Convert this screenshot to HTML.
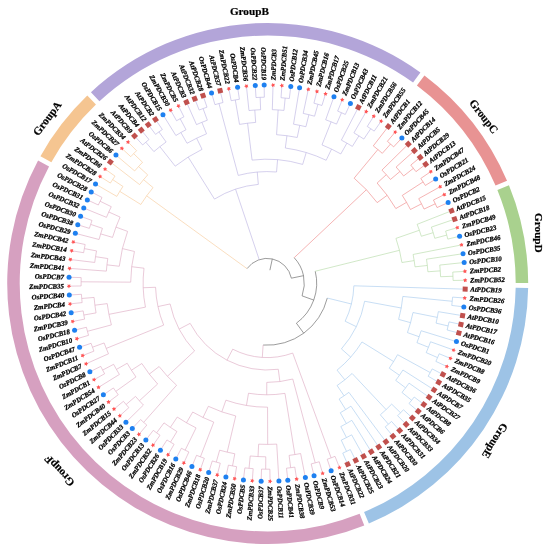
<!DOCTYPE html>
<html><head><meta charset="utf-8"><title>PDCB phylogenetic tree</title>
<style>
html,body{margin:0;padding:0;background:#fff;}
svg{display:block;}
.gl{font-family:"Liberation Serif",serif;font-weight:bold;font-size:11.2px;fill:#000;stroke:#000;stroke-width:0.2px;}
.lf{font-family:"Liberation Serif",serif;font-weight:bold;font-style:italic;font-size:68.5px;fill:#000;stroke:#000;stroke-width:2.6px;text-rendering:geometricPrecision;}
</style></head><body>
<svg width="550" height="551" viewBox="0 0 550 551">
<rect width="550" height="551" fill="#fff"/>
<path d="M269.90 270.20L272.31 258.95" stroke="#595959" stroke-width="0.6" fill="none"/>
<path d="M247.02 268.64A24.80 24.80 0 0 1 291.39 278.18" stroke="#595959" stroke-width="0.6" fill="none"/>
<path d="M247.02 268.64L146.65 195.84" stroke="#f6c796" stroke-width="0.6" fill="none"/>
<path d="M140.82 204.49A148.80 148.80 0 0 1 153.06 187.61" stroke="#f6c796" stroke-width="0.6" fill="none"/>
<path d="M140.82 204.49L119.77 191.37" stroke="#f6c796" stroke-width="0.6" fill="none"/>
<path d="M116.77 196.39A173.60 173.60 0 0 1 122.95 186.47" stroke="#f6c796" stroke-width="0.6" fill="none"/>
<path d="M116.77 196.39L95.29 183.98" stroke="#f6c796" stroke-width="0.6" fill="none"/>
<path d="M122.95 186.47L112.65 179.56" stroke="#f6c796" stroke-width="0.6" fill="none"/>
<path d="M110.36 183.05A186.00 186.00 0 0 1 115.01 176.12" stroke="#f6c796" stroke-width="0.6" fill="none"/>
<path d="M110.36 183.05L99.91 176.37" stroke="#f6c796" stroke-width="0.6" fill="none"/>
<path d="M115.01 176.12L104.88 168.98" stroke="#f6c796" stroke-width="0.6" fill="none"/>
<path d="M153.06 187.61L143.56 179.65" stroke="#f6c796" stroke-width="0.6" fill="none"/>
<path d="M139.59 184.58A161.20 161.20 0 0 1 147.72 174.88" stroke="#f6c796" stroke-width="0.6" fill="none"/>
<path d="M139.59 184.58L110.16 161.82" stroke="#f6c796" stroke-width="0.6" fill="none"/>
<path d="M147.72 174.88L138.54 166.54" stroke="#f6c796" stroke-width="0.6" fill="none"/>
<path d="M134.68 170.94A173.60 173.60 0 0 1 142.54 162.28" stroke="#f6c796" stroke-width="0.6" fill="none"/>
<path d="M134.68 170.94L115.77 154.90" stroke="#f6c796" stroke-width="0.6" fill="none"/>
<path d="M142.54 162.28L133.64 153.65" stroke="#f6c796" stroke-width="0.6" fill="none"/>
<path d="M130.76 156.67A186.00 186.00 0 0 1 136.58 150.69" stroke="#f6c796" stroke-width="0.6" fill="none"/>
<path d="M130.76 156.67L121.68 148.24" stroke="#f6c796" stroke-width="0.6" fill="none"/>
<path d="M136.58 150.69L127.88 141.85" stroke="#f6c796" stroke-width="0.6" fill="none"/>
<path d="M259.21 259.69L235.54 189.15" stroke="#b9b0e0" stroke-width="0.6" fill="none"/>
<path d="M214.49 199.10A99.20 99.20 0 0 1 258.33 184.39" stroke="#b9b0e0" stroke-width="0.6" fill="none"/>
<path d="M214.49 199.10L188.18 157.05" stroke="#b9b0e0" stroke-width="0.6" fill="none"/>
<path d="M175.21 166.16A148.80 148.80 0 0 1 202.05 149.37" stroke="#b9b0e0" stroke-width="0.6" fill="none"/>
<path d="M175.21 166.16L159.89 146.66" stroke="#b9b0e0" stroke-width="0.6" fill="none"/>
<path d="M153.88 151.60A173.60 173.60 0 0 1 166.13 141.99" stroke="#b9b0e0" stroke-width="0.6" fill="none"/>
<path d="M153.88 151.60L145.79 142.21" stroke="#b9b0e0" stroke-width="0.6" fill="none"/>
<path d="M142.66 144.96A186.00 186.00 0 0 1 148.98 139.52" stroke="#b9b0e0" stroke-width="0.6" fill="none"/>
<path d="M142.66 144.96L134.36 135.75" stroke="#b9b0e0" stroke-width="0.6" fill="none"/>
<path d="M148.98 139.52L141.11 129.94" stroke="#b9b0e0" stroke-width="0.6" fill="none"/>
<path d="M166.13 141.99L158.92 131.90" stroke="#b9b0e0" stroke-width="0.6" fill="none"/>
<path d="M155.55 134.36A186.00 186.00 0 0 1 162.34 129.51" stroke="#b9b0e0" stroke-width="0.6" fill="none"/>
<path d="M155.55 134.36L148.11 124.44" stroke="#b9b0e0" stroke-width="0.6" fill="none"/>
<path d="M162.34 129.51L155.35 119.26" stroke="#b9b0e0" stroke-width="0.6" fill="none"/>
<path d="M202.05 149.37L196.63 138.22" stroke="#b9b0e0" stroke-width="0.6" fill="none"/>
<path d="M187.04 143.29A161.20 161.20 0 0 1 206.54 133.81" stroke="#b9b0e0" stroke-width="0.6" fill="none"/>
<path d="M187.04 143.29L180.88 132.53" stroke="#b9b0e0" stroke-width="0.6" fill="none"/>
<path d="M175.86 135.51A173.60 173.60 0 0 1 186.00 129.71" stroke="#b9b0e0" stroke-width="0.6" fill="none"/>
<path d="M175.86 135.51L162.82 114.41" stroke="#b9b0e0" stroke-width="0.6" fill="none"/>
<path d="M186.00 129.71L180.20 118.75" stroke="#b9b0e0" stroke-width="0.6" fill="none"/>
<path d="M176.54 120.74A186.00 186.00 0 0 1 183.92 116.84" stroke="#b9b0e0" stroke-width="0.6" fill="none"/>
<path d="M176.54 120.74L170.50 109.91" stroke="#b9b0e0" stroke-width="0.6" fill="none"/>
<path d="M183.92 116.84L178.37 105.75" stroke="#b9b0e0" stroke-width="0.6" fill="none"/>
<path d="M206.54 133.81L201.88 122.32" stroke="#b9b0e0" stroke-width="0.6" fill="none"/>
<path d="M196.51 124.60A173.60 173.60 0 0 1 207.34 120.21" stroke="#b9b0e0" stroke-width="0.6" fill="none"/>
<path d="M196.51 124.60L186.42 101.94" stroke="#b9b0e0" stroke-width="0.6" fill="none"/>
<path d="M207.34 120.21L203.07 108.57" stroke="#b9b0e0" stroke-width="0.6" fill="none"/>
<path d="M199.16 110.05A186.00 186.00 0 0 1 207.00 107.18" stroke="#b9b0e0" stroke-width="0.6" fill="none"/>
<path d="M199.16 110.05L194.63 98.51" stroke="#b9b0e0" stroke-width="0.6" fill="none"/>
<path d="M207.00 107.18L202.99 95.44" stroke="#b9b0e0" stroke-width="0.6" fill="none"/>
<path d="M258.33 184.39L257.24 172.04" stroke="#b9b0e0" stroke-width="0.6" fill="none"/>
<path d="M238.23 175.40A111.60 111.60 0 0 1 276.54 172.00" stroke="#b9b0e0" stroke-width="0.6" fill="none"/>
<path d="M238.23 175.40L218.98 103.53" stroke="#b9b0e0" stroke-width="0.6" fill="none"/>
<path d="M214.96 104.66A186.00 186.00 0 0 1 223.02 102.50" stroke="#b9b0e0" stroke-width="0.6" fill="none"/>
<path d="M214.96 104.66L211.48 92.76" stroke="#b9b0e0" stroke-width="0.6" fill="none"/>
<path d="M223.02 102.50L220.08 90.45" stroke="#b9b0e0" stroke-width="0.6" fill="none"/>
<path d="M276.54 172.00L277.59 159.64" stroke="#b9b0e0" stroke-width="0.6" fill="none"/>
<path d="M252.08 160.11A124.00 124.00 0 0 1 302.66 164.41" stroke="#b9b0e0" stroke-width="0.6" fill="none"/>
<path d="M252.08 160.11L247.57 123.19" stroke="#b9b0e0" stroke-width="0.6" fill="none"/>
<path d="M239.52 124.38A161.20 161.20 0 0 1 255.67 122.41" stroke="#b9b0e0" stroke-width="0.6" fill="none"/>
<path d="M239.52 124.38L235.28 99.94" stroke="#b9b0e0" stroke-width="0.6" fill="none"/>
<path d="M231.17 100.70A186.00 186.00 0 0 1 239.40 99.27" stroke="#b9b0e0" stroke-width="0.6" fill="none"/>
<path d="M231.17 100.70L228.78 88.54" stroke="#b9b0e0" stroke-width="0.6" fill="none"/>
<path d="M239.40 99.27L237.55 87.01" stroke="#b9b0e0" stroke-width="0.6" fill="none"/>
<path d="M255.67 122.41L254.79 110.04" stroke="#b9b0e0" stroke-width="0.6" fill="none"/>
<path d="M248.97 110.55A173.60 173.60 0 0 1 260.63 109.72" stroke="#b9b0e0" stroke-width="0.6" fill="none"/>
<path d="M248.97 110.55L246.38 85.88" stroke="#b9b0e0" stroke-width="0.6" fill="none"/>
<path d="M260.63 109.72L260.16 97.33" stroke="#b9b0e0" stroke-width="0.6" fill="none"/>
<path d="M255.99 97.53A186.00 186.00 0 0 1 264.34 97.22" stroke="#b9b0e0" stroke-width="0.6" fill="none"/>
<path d="M255.99 97.53L255.25 85.15" stroke="#b9b0e0" stroke-width="0.6" fill="none"/>
<path d="M264.34 97.22L264.15 84.82" stroke="#b9b0e0" stroke-width="0.6" fill="none"/>
<path d="M302.66 164.41L306.22 152.53" stroke="#b9b0e0" stroke-width="0.6" fill="none"/>
<path d="M285.30 148.02A136.40 136.40 0 0 1 326.18 160.26" stroke="#b9b0e0" stroke-width="0.6" fill="none"/>
<path d="M285.30 148.02L286.95 135.73" stroke="#b9b0e0" stroke-width="0.6" fill="none"/>
<path d="M276.57 134.70A148.80 148.80 0 0 1 297.23 137.48" stroke="#b9b0e0" stroke-width="0.6" fill="none"/>
<path d="M276.57 134.70L278.15 109.95" stroke="#b9b0e0" stroke-width="0.6" fill="none"/>
<path d="M272.31 109.68A173.60 173.60 0 0 1 283.97 110.42" stroke="#b9b0e0" stroke-width="0.6" fill="none"/>
<path d="M272.31 109.68L273.06 84.89" stroke="#b9b0e0" stroke-width="0.6" fill="none"/>
<path d="M283.97 110.42L285.18 98.08" stroke="#b9b0e0" stroke-width="0.6" fill="none"/>
<path d="M281.02 97.72A186.00 186.00 0 0 1 289.33 98.53" stroke="#b9b0e0" stroke-width="0.6" fill="none"/>
<path d="M281.02 97.72L281.95 85.36" stroke="#b9b0e0" stroke-width="0.6" fill="none"/>
<path d="M289.33 98.53L290.81 86.22" stroke="#b9b0e0" stroke-width="0.6" fill="none"/>
<path d="M297.23 137.48L299.75 125.34" stroke="#b9b0e0" stroke-width="0.6" fill="none"/>
<path d="M293.52 124.18A161.20 161.20 0 0 1 305.92 126.74" stroke="#b9b0e0" stroke-width="0.6" fill="none"/>
<path d="M293.52 124.18L299.62 87.48" stroke="#b9b0e0" stroke-width="0.6" fill="none"/>
<path d="M305.92 126.74L308.90 114.71" stroke="#b9b0e0" stroke-width="0.6" fill="none"/>
<path d="M303.21 113.40A173.60 173.60 0 0 1 314.55 116.21" stroke="#b9b0e0" stroke-width="0.6" fill="none"/>
<path d="M303.21 113.40L308.37 89.14" stroke="#b9b0e0" stroke-width="0.6" fill="none"/>
<path d="M314.55 116.21L317.94 104.28" stroke="#b9b0e0" stroke-width="0.6" fill="none"/>
<path d="M313.91 103.19A186.00 186.00 0 0 1 321.94 105.47" stroke="#b9b0e0" stroke-width="0.6" fill="none"/>
<path d="M313.91 103.19L317.03 91.19" stroke="#b9b0e0" stroke-width="0.6" fill="none"/>
<path d="M321.94 105.47L325.60 93.62" stroke="#b9b0e0" stroke-width="0.6" fill="none"/>
<path d="M326.18 160.26L331.55 149.08" stroke="#b9b0e0" stroke-width="0.6" fill="none"/>
<path d="M321.99 144.90A148.80 148.80 0 0 1 340.79 153.93" stroke="#b9b0e0" stroke-width="0.6" fill="none"/>
<path d="M321.99 144.90L331.14 121.85" stroke="#b9b0e0" stroke-width="0.6" fill="none"/>
<path d="M325.68 119.78A173.60 173.60 0 0 1 336.54 124.09" stroke="#b9b0e0" stroke-width="0.6" fill="none"/>
<path d="M325.68 119.78L334.04 96.44" stroke="#b9b0e0" stroke-width="0.6" fill="none"/>
<path d="M336.54 124.09L341.50 112.73" stroke="#b9b0e0" stroke-width="0.6" fill="none"/>
<path d="M337.65 111.10A186.00 186.00 0 0 1 345.30 114.44" stroke="#b9b0e0" stroke-width="0.6" fill="none"/>
<path d="M337.65 111.10L342.36 99.63" stroke="#b9b0e0" stroke-width="0.6" fill="none"/>
<path d="M345.30 114.44L350.52 103.19" stroke="#b9b0e0" stroke-width="0.6" fill="none"/>
<path d="M340.79 153.93L346.93 143.15" stroke="#b9b0e0" stroke-width="0.6" fill="none"/>
<path d="M341.37 140.13A161.20 161.20 0 0 1 352.37 146.40" stroke="#b9b0e0" stroke-width="0.6" fill="none"/>
<path d="M341.37 140.13L358.51 107.11" stroke="#b9b0e0" stroke-width="0.6" fill="none"/>
<path d="M352.37 146.40L358.93 135.87" stroke="#b9b0e0" stroke-width="0.6" fill="none"/>
<path d="M353.91 132.87A173.60 173.60 0 0 1 363.83 139.05" stroke="#b9b0e0" stroke-width="0.6" fill="none"/>
<path d="M353.91 132.87L366.32 111.39" stroke="#b9b0e0" stroke-width="0.6" fill="none"/>
<path d="M363.83 139.05L370.74 128.75" stroke="#b9b0e0" stroke-width="0.6" fill="none"/>
<path d="M367.25 126.46A186.00 186.00 0 0 1 374.18 131.11" stroke="#b9b0e0" stroke-width="0.6" fill="none"/>
<path d="M367.25 126.46L373.93 116.01" stroke="#b9b0e0" stroke-width="0.6" fill="none"/>
<path d="M374.18 131.11L381.32 120.98" stroke="#b9b0e0" stroke-width="0.6" fill="none"/>
<path d="M291.39 278.18L303.53 275.67" stroke="#595959" stroke-width="0.6" fill="none"/>
<path d="M294.18 257.70A37.20 37.20 0 0 1 302.08 295.87" stroke="#595959" stroke-width="0.6" fill="none"/>
<path d="M294.18 257.70L366.40 189.69" stroke="#ee8282" stroke-width="0.6" fill="none"/>
<path d="M354.13 178.18A136.40 136.40 0 0 1 377.16 202.62" stroke="#ee8282" stroke-width="0.6" fill="none"/>
<path d="M354.13 178.18L377.87 149.53" stroke="#ee8282" stroke-width="0.6" fill="none"/>
<path d="M373.31 145.88A173.60 173.60 0 0 1 382.31 153.34" stroke="#ee8282" stroke-width="0.6" fill="none"/>
<path d="M373.31 145.88L388.48 126.26" stroke="#ee8282" stroke-width="0.6" fill="none"/>
<path d="M382.31 153.34L390.53 144.06" stroke="#ee8282" stroke-width="0.6" fill="none"/>
<path d="M387.38 141.33A186.00 186.00 0 0 1 393.63 146.86" stroke="#ee8282" stroke-width="0.6" fill="none"/>
<path d="M387.38 141.33L395.40 131.87" stroke="#ee8282" stroke-width="0.6" fill="none"/>
<path d="M393.63 146.86L402.06 137.78" stroke="#ee8282" stroke-width="0.6" fill="none"/>
<path d="M377.16 202.62L387.16 195.30" stroke="#ee8282" stroke-width="0.6" fill="none"/>
<path d="M377.13 183.03A148.80 148.80 0 0 1 395.83 208.57" stroke="#ee8282" stroke-width="0.6" fill="none"/>
<path d="M377.13 183.03L386.30 174.68" stroke="#ee8282" stroke-width="0.6" fill="none"/>
<path d="M381.95 170.08A161.20 161.20 0 0 1 390.47 179.44" stroke="#ee8282" stroke-width="0.6" fill="none"/>
<path d="M381.95 170.08L408.45 143.98" stroke="#ee8282" stroke-width="0.6" fill="none"/>
<path d="M390.47 179.44L399.96 171.46" stroke="#ee8282" stroke-width="0.6" fill="none"/>
<path d="M396.12 167.05A173.60 173.60 0 0 1 403.64 175.99" stroke="#ee8282" stroke-width="0.6" fill="none"/>
<path d="M396.12 167.05L414.55 150.46" stroke="#ee8282" stroke-width="0.6" fill="none"/>
<path d="M403.64 175.99L413.40 168.34" stroke="#ee8282" stroke-width="0.6" fill="none"/>
<path d="M410.78 165.08A186.00 186.00 0 0 1 415.94 171.65" stroke="#ee8282" stroke-width="0.6" fill="none"/>
<path d="M410.78 165.08L420.36 157.21" stroke="#ee8282" stroke-width="0.6" fill="none"/>
<path d="M415.94 171.65L425.86 164.21" stroke="#ee8282" stroke-width="0.6" fill="none"/>
<path d="M395.83 208.57L406.56 202.35" stroke="#ee8282" stroke-width="0.6" fill="none"/>
<path d="M402.30 195.42A161.20 161.20 0 0 1 410.46 209.49" stroke="#ee8282" stroke-width="0.6" fill="none"/>
<path d="M402.30 195.42L423.10 181.91" stroke="#ee8282" stroke-width="0.6" fill="none"/>
<path d="M420.79 178.44A186.00 186.00 0 0 1 425.34 185.44" stroke="#ee8282" stroke-width="0.6" fill="none"/>
<path d="M420.79 178.44L431.04 171.45" stroke="#ee8282" stroke-width="0.6" fill="none"/>
<path d="M425.34 185.44L435.89 178.92" stroke="#ee8282" stroke-width="0.6" fill="none"/>
<path d="M410.46 209.49L421.49 203.82" stroke="#ee8282" stroke-width="0.6" fill="none"/>
<path d="M418.73 198.67A173.60 173.60 0 0 1 424.07 209.07" stroke="#ee8282" stroke-width="0.6" fill="none"/>
<path d="M418.73 198.67L440.39 186.60" stroke="#ee8282" stroke-width="0.6" fill="none"/>
<path d="M424.07 209.07L435.29 203.77" stroke="#ee8282" stroke-width="0.6" fill="none"/>
<path d="M433.46 200.02A186.00 186.00 0 0 1 437.03 207.56" stroke="#ee8282" stroke-width="0.6" fill="none"/>
<path d="M433.46 200.02L444.55 194.47" stroke="#ee8282" stroke-width="0.6" fill="none"/>
<path d="M437.03 207.56L448.36 202.52" stroke="#ee8282" stroke-width="0.6" fill="none"/>
<path d="M302.08 295.87L313.74 300.09" stroke="#595959" stroke-width="0.6" fill="none"/>
<path d="M315.24 271.24A49.60 49.60 0 0 1 296.41 323.21" stroke="#595959" stroke-width="0.6" fill="none"/>
<path d="M315.24 271.24L399.48 250.32" stroke="#b1d8a3" stroke-width="0.6" fill="none"/>
<path d="M395.93 238.40A136.40 136.40 0 0 1 401.92 262.51" stroke="#b1d8a3" stroke-width="0.6" fill="none"/>
<path d="M395.93 238.40L419.36 230.26" stroke="#b1d8a3" stroke-width="0.6" fill="none"/>
<path d="M417.16 224.32A161.20 161.20 0 0 1 421.32 236.28" stroke="#b1d8a3" stroke-width="0.6" fill="none"/>
<path d="M417.16 224.32L451.79 210.73" stroke="#b1d8a3" stroke-width="0.6" fill="none"/>
<path d="M421.32 236.28L433.18 232.67" stroke="#b1d8a3" stroke-width="0.6" fill="none"/>
<path d="M431.39 227.11A173.60 173.60 0 0 1 434.79 238.29" stroke="#b1d8a3" stroke-width="0.6" fill="none"/>
<path d="M431.39 227.11L454.86 219.09" stroke="#b1d8a3" stroke-width="0.6" fill="none"/>
<path d="M434.79 238.29L446.77 235.08" stroke="#b1d8a3" stroke-width="0.6" fill="none"/>
<path d="M445.64 231.06A186.00 186.00 0 0 1 447.80 239.12" stroke="#b1d8a3" stroke-width="0.6" fill="none"/>
<path d="M445.64 231.06L457.54 227.58" stroke="#b1d8a3" stroke-width="0.6" fill="none"/>
<path d="M447.80 239.12L459.85 236.18" stroke="#b1d8a3" stroke-width="0.6" fill="none"/>
<path d="M401.92 262.51L414.18 260.62" stroke="#b1d8a3" stroke-width="0.6" fill="none"/>
<path d="M413.10 254.46A148.80 148.80 0 0 1 415.00 266.83" stroke="#b1d8a3" stroke-width="0.6" fill="none"/>
<path d="M413.10 254.46L461.76 244.88" stroke="#b1d8a3" stroke-width="0.6" fill="none"/>
<path d="M415.00 266.83L427.32 265.47" stroke="#b1d8a3" stroke-width="0.6" fill="none"/>
<path d="M426.50 259.19A161.20 161.20 0 0 1 427.89 271.77" stroke="#b1d8a3" stroke-width="0.6" fill="none"/>
<path d="M426.50 259.19L463.29 253.65" stroke="#b1d8a3" stroke-width="0.6" fill="none"/>
<path d="M427.89 271.77L440.26 270.89" stroke="#b1d8a3" stroke-width="0.6" fill="none"/>
<path d="M439.75 265.07A173.60 173.60 0 0 1 440.58 276.73" stroke="#b1d8a3" stroke-width="0.6" fill="none"/>
<path d="M439.75 265.07L464.42 262.48" stroke="#b1d8a3" stroke-width="0.6" fill="none"/>
<path d="M440.58 276.73L452.97 276.26" stroke="#b1d8a3" stroke-width="0.6" fill="none"/>
<path d="M452.77 272.09A186.00 186.00 0 0 1 453.08 280.44" stroke="#b1d8a3" stroke-width="0.6" fill="none"/>
<path d="M452.77 272.09L465.15 271.35" stroke="#b1d8a3" stroke-width="0.6" fill="none"/>
<path d="M453.08 280.44L465.48 280.25" stroke="#b1d8a3" stroke-width="0.6" fill="none"/>
<path d="M296.41 323.21L303.74 333.21" stroke="#595959" stroke-width="0.6" fill="none"/>
<path d="M327.30 298.04A62.00 62.00 0 0 1 263.11 345.07" stroke="#595959" stroke-width="0.6" fill="none"/>
<path d="M327.30 298.04L351.38 303.98" stroke="#a3c8ec" stroke-width="0.6" fill="none"/>
<path d="M353.86 285.81A86.80 86.80 0 0 1 345.13 321.22" stroke="#a3c8ec" stroke-width="0.6" fill="none"/>
<path d="M353.86 285.81L465.41 289.16" stroke="#a3c8ec" stroke-width="0.6" fill="none"/>
<path d="M345.13 321.22L356.28 326.65" stroke="#a3c8ec" stroke-width="0.6" fill="none"/>
<path d="M364.65 301.24A99.20 99.20 0 0 1 341.42 348.90" stroke="#a3c8ec" stroke-width="0.6" fill="none"/>
<path d="M364.65 301.24L401.23 308.01" stroke="#a3c8ec" stroke-width="0.6" fill="none"/>
<path d="M402.85 296.46A136.40 136.40 0 0 1 398.61 319.38" stroke="#a3c8ec" stroke-width="0.6" fill="none"/>
<path d="M402.85 296.46L452.22 301.28" stroke="#a3c8ec" stroke-width="0.6" fill="none"/>
<path d="M452.58 297.12A186.00 186.00 0 0 1 451.77 305.43" stroke="#a3c8ec" stroke-width="0.6" fill="none"/>
<path d="M452.58 297.12L464.94 298.05" stroke="#a3c8ec" stroke-width="0.6" fill="none"/>
<path d="M451.77 305.43L464.08 306.91" stroke="#a3c8ec" stroke-width="0.6" fill="none"/>
<path d="M398.61 319.38L410.57 322.67" stroke="#a3c8ec" stroke-width="0.6" fill="none"/>
<path d="M412.98 312.52A148.80 148.80 0 0 1 407.45 332.62" stroke="#a3c8ec" stroke-width="0.6" fill="none"/>
<path d="M412.98 312.52L437.30 317.40" stroke="#a3c8ec" stroke-width="0.6" fill="none"/>
<path d="M438.35 311.66A173.60 173.60 0 0 1 436.05 323.11" stroke="#a3c8ec" stroke-width="0.6" fill="none"/>
<path d="M438.35 311.66L462.82 315.72" stroke="#a3c8ec" stroke-width="0.6" fill="none"/>
<path d="M436.05 323.11L448.12 325.96" stroke="#a3c8ec" stroke-width="0.6" fill="none"/>
<path d="M449.03 321.89A186.00 186.00 0 0 1 447.11 330.01" stroke="#a3c8ec" stroke-width="0.6" fill="none"/>
<path d="M449.03 321.89L461.16 324.47" stroke="#a3c8ec" stroke-width="0.6" fill="none"/>
<path d="M447.11 330.01L459.11 333.13" stroke="#a3c8ec" stroke-width="0.6" fill="none"/>
<path d="M407.45 332.62L419.15 336.74" stroke="#a3c8ec" stroke-width="0.6" fill="none"/>
<path d="M421.13 330.73A161.20 161.20 0 0 1 416.93 342.67" stroke="#a3c8ec" stroke-width="0.6" fill="none"/>
<path d="M421.13 330.73L456.68 341.70" stroke="#a3c8ec" stroke-width="0.6" fill="none"/>
<path d="M416.93 342.67L428.45 347.24" stroke="#a3c8ec" stroke-width="0.6" fill="none"/>
<path d="M430.52 341.78A173.60 173.60 0 0 1 426.21 352.64" stroke="#a3c8ec" stroke-width="0.6" fill="none"/>
<path d="M430.52 341.78L453.86 350.14" stroke="#a3c8ec" stroke-width="0.6" fill="none"/>
<path d="M426.21 352.64L437.57 357.60" stroke="#a3c8ec" stroke-width="0.6" fill="none"/>
<path d="M439.20 353.75A186.00 186.00 0 0 1 435.86 361.40" stroke="#a3c8ec" stroke-width="0.6" fill="none"/>
<path d="M439.20 353.75L450.67 358.46" stroke="#a3c8ec" stroke-width="0.6" fill="none"/>
<path d="M435.86 361.40L447.11 366.62" stroke="#a3c8ec" stroke-width="0.6" fill="none"/>
<path d="M341.42 348.90L350.71 357.11" stroke="#a3c8ec" stroke-width="0.6" fill="none"/>
<path d="M361.98 341.96A111.60 111.60 0 0 1 337.06 370.15" stroke="#a3c8ec" stroke-width="0.6" fill="none"/>
<path d="M361.98 341.96L393.60 361.55" stroke="#a3c8ec" stroke-width="0.6" fill="none"/>
<path d="M397.59 354.70A148.80 148.80 0 0 1 389.25 368.18" stroke="#a3c8ec" stroke-width="0.6" fill="none"/>
<path d="M397.59 354.70L430.22 372.58" stroke="#a3c8ec" stroke-width="0.6" fill="none"/>
<path d="M432.18 368.90A186.00 186.00 0 0 1 428.17 376.22" stroke="#a3c8ec" stroke-width="0.6" fill="none"/>
<path d="M432.18 368.90L443.19 374.61" stroke="#a3c8ec" stroke-width="0.6" fill="none"/>
<path d="M428.17 376.22L438.91 382.42" stroke="#a3c8ec" stroke-width="0.6" fill="none"/>
<path d="M389.25 368.18L399.43 375.26" stroke="#a3c8ec" stroke-width="0.6" fill="none"/>
<path d="M402.94 370.00A161.20 161.20 0 0 1 395.71 380.39" stroke="#a3c8ec" stroke-width="0.6" fill="none"/>
<path d="M402.94 370.00L434.29 390.03" stroke="#a3c8ec" stroke-width="0.6" fill="none"/>
<path d="M395.71 380.39L405.60 387.86" stroke="#a3c8ec" stroke-width="0.6" fill="none"/>
<path d="M409.05 383.14A173.60 173.60 0 0 1 402.00 392.46" stroke="#a3c8ec" stroke-width="0.6" fill="none"/>
<path d="M409.05 383.14L429.32 397.42" stroke="#a3c8ec" stroke-width="0.6" fill="none"/>
<path d="M402.00 392.46L411.64 400.27" stroke="#a3c8ec" stroke-width="0.6" fill="none"/>
<path d="M414.23 397.00A186.00 186.00 0 0 1 408.97 403.48" stroke="#a3c8ec" stroke-width="0.6" fill="none"/>
<path d="M414.23 397.00L424.04 404.58" stroke="#a3c8ec" stroke-width="0.6" fill="none"/>
<path d="M408.97 403.48L418.43 411.50" stroke="#a3c8ec" stroke-width="0.6" fill="none"/>
<path d="M337.06 370.15L344.83 379.81" stroke="#a3c8ec" stroke-width="0.6" fill="none"/>
<path d="M352.11 373.47A124.00 124.00 0 0 1 337.09 385.56" stroke="#a3c8ec" stroke-width="0.6" fill="none"/>
<path d="M352.11 373.47L386.11 409.58" stroke="#a3c8ec" stroke-width="0.6" fill="none"/>
<path d="M391.66 404.12A173.60 173.60 0 0 1 380.32 414.80" stroke="#a3c8ec" stroke-width="0.6" fill="none"/>
<path d="M391.66 404.12L400.56 412.75" stroke="#a3c8ec" stroke-width="0.6" fill="none"/>
<path d="M403.44 409.73A186.00 186.00 0 0 1 397.62 415.71" stroke="#a3c8ec" stroke-width="0.6" fill="none"/>
<path d="M403.44 409.73L412.52 418.16" stroke="#a3c8ec" stroke-width="0.6" fill="none"/>
<path d="M397.62 415.71L406.32 424.55" stroke="#a3c8ec" stroke-width="0.6" fill="none"/>
<path d="M380.32 414.80L388.41 424.19" stroke="#a3c8ec" stroke-width="0.6" fill="none"/>
<path d="M391.54 421.44A186.00 186.00 0 0 1 385.22 426.88" stroke="#a3c8ec" stroke-width="0.6" fill="none"/>
<path d="M391.54 421.44L399.84 430.65" stroke="#a3c8ec" stroke-width="0.6" fill="none"/>
<path d="M385.22 426.88L393.09 436.46" stroke="#a3c8ec" stroke-width="0.6" fill="none"/>
<path d="M337.09 385.56L344.08 395.80" stroke="#a3c8ec" stroke-width="0.6" fill="none"/>
<path d="M348.90 392.35A136.40 136.40 0 0 1 339.12 399.04" stroke="#a3c8ec" stroke-width="0.6" fill="none"/>
<path d="M348.90 392.35L386.09 441.96" stroke="#a3c8ec" stroke-width="0.6" fill="none"/>
<path d="M339.12 399.04L345.66 409.57" stroke="#a3c8ec" stroke-width="0.6" fill="none"/>
<path d="M350.91 406.15A148.80 148.80 0 0 1 340.28 412.76" stroke="#a3c8ec" stroke-width="0.6" fill="none"/>
<path d="M350.91 406.15L378.85 447.14" stroke="#a3c8ec" stroke-width="0.6" fill="none"/>
<path d="M340.28 412.76L346.38 423.56" stroke="#a3c8ec" stroke-width="0.6" fill="none"/>
<path d="M351.83 420.34A161.20 161.20 0 0 1 340.81 426.56" stroke="#a3c8ec" stroke-width="0.6" fill="none"/>
<path d="M351.83 420.34L371.38 451.99" stroke="#a3c8ec" stroke-width="0.6" fill="none"/>
<path d="M340.81 426.56L346.48 437.59" stroke="#a3c8ec" stroke-width="0.6" fill="none"/>
<path d="M351.63 434.83A173.60 173.60 0 0 1 341.23 440.17" stroke="#a3c8ec" stroke-width="0.6" fill="none"/>
<path d="M351.63 434.83L363.70 456.49" stroke="#a3c8ec" stroke-width="0.6" fill="none"/>
<path d="M341.23 440.17L346.53 451.39" stroke="#a3c8ec" stroke-width="0.6" fill="none"/>
<path d="M350.28 449.56A186.00 186.00 0 0 1 342.74 453.13" stroke="#a3c8ec" stroke-width="0.6" fill="none"/>
<path d="M350.28 449.56L355.83 460.65" stroke="#a3c8ec" stroke-width="0.6" fill="none"/>
<path d="M342.74 453.13L347.78 464.46" stroke="#a3c8ec" stroke-width="0.6" fill="none"/>
<path d="M263.11 345.07L262.31 357.45" stroke="#dba6bf" stroke-width="0.6" fill="none"/>
<path d="M292.71 353.05A74.40 74.40 0 0 1 232.72 349.18" stroke="#dba6bf" stroke-width="0.6" fill="none"/>
<path d="M292.71 353.05L331.13 457.83" stroke="#dba6bf" stroke-width="0.6" fill="none"/>
<path d="M335.04 456.35A186.00 186.00 0 0 1 327.20 459.22" stroke="#dba6bf" stroke-width="0.6" fill="none"/>
<path d="M335.04 456.35L339.57 467.89" stroke="#dba6bf" stroke-width="0.6" fill="none"/>
<path d="M327.20 459.22L331.21 470.96" stroke="#dba6bf" stroke-width="0.6" fill="none"/>
<path d="M232.72 349.18L226.99 360.18" stroke="#dba6bf" stroke-width="0.6" fill="none"/>
<path d="M278.28 369.28A86.80 86.80 0 0 1 190.15 323.36" stroke="#dba6bf" stroke-width="0.6" fill="none"/>
<path d="M278.28 369.28L279.88 381.57" stroke="#dba6bf" stroke-width="0.6" fill="none"/>
<path d="M292.77 379.02A99.20 99.20 0 0 1 266.77 382.40" stroke="#dba6bf" stroke-width="0.6" fill="none"/>
<path d="M292.77 379.02L315.22 462.87" stroke="#dba6bf" stroke-width="0.6" fill="none"/>
<path d="M319.24 461.74A186.00 186.00 0 0 1 311.18 463.90" stroke="#dba6bf" stroke-width="0.6" fill="none"/>
<path d="M319.24 461.74L322.72 473.64" stroke="#dba6bf" stroke-width="0.6" fill="none"/>
<path d="M311.18 463.90L314.12 475.95" stroke="#dba6bf" stroke-width="0.6" fill="none"/>
<path d="M266.77 382.40L266.72 394.80" stroke="#dba6bf" stroke-width="0.6" fill="none"/>
<path d="M284.96 393.36A111.60 111.60 0 0 1 248.50 393.24" stroke="#dba6bf" stroke-width="0.6" fill="none"/>
<path d="M284.96 393.36L294.88 454.56" stroke="#dba6bf" stroke-width="0.6" fill="none"/>
<path d="M300.63 453.53A173.60 173.60 0 0 1 289.10 455.40" stroke="#dba6bf" stroke-width="0.6" fill="none"/>
<path d="M300.63 453.53L305.42 477.86" stroke="#dba6bf" stroke-width="0.6" fill="none"/>
<path d="M289.10 455.40L290.67 467.70" stroke="#dba6bf" stroke-width="0.6" fill="none"/>
<path d="M294.80 467.13A186.00 186.00 0 0 1 286.52 468.18" stroke="#dba6bf" stroke-width="0.6" fill="none"/>
<path d="M294.80 467.13L296.65 479.39" stroke="#dba6bf" stroke-width="0.6" fill="none"/>
<path d="M286.52 468.18L287.82 480.52" stroke="#dba6bf" stroke-width="0.6" fill="none"/>
<path d="M248.50 393.24L246.43 405.47" stroke="#dba6bf" stroke-width="0.6" fill="none"/>
<path d="M267.55 407.20A124.00 124.00 0 0 1 225.91 400.16" stroke="#dba6bf" stroke-width="0.6" fill="none"/>
<path d="M267.55 407.20L267.69 444.40" stroke="#dba6bf" stroke-width="0.6" fill="none"/>
<path d="M276.72 444.11A161.20 161.20 0 0 1 258.65 444.18" stroke="#dba6bf" stroke-width="0.6" fill="none"/>
<path d="M276.72 444.11L278.95 481.25" stroke="#dba6bf" stroke-width="0.6" fill="none"/>
<path d="M258.65 444.18L258.00 456.56" stroke="#dba6bf" stroke-width="0.6" fill="none"/>
<path d="M265.78 456.80A173.60 173.60 0 0 1 250.23 455.98" stroke="#dba6bf" stroke-width="0.6" fill="none"/>
<path d="M265.78 456.80L265.69 469.19" stroke="#dba6bf" stroke-width="0.6" fill="none"/>
<path d="M269.86 469.18A186.00 186.00 0 0 1 261.52 469.12" stroke="#dba6bf" stroke-width="0.6" fill="none"/>
<path d="M269.86 469.18L270.05 481.58" stroke="#dba6bf" stroke-width="0.6" fill="none"/>
<path d="M261.52 469.12L261.14 481.51" stroke="#dba6bf" stroke-width="0.6" fill="none"/>
<path d="M250.23 455.98L249.02 468.32" stroke="#dba6bf" stroke-width="0.6" fill="none"/>
<path d="M253.18 468.68A186.00 186.00 0 0 1 244.87 467.87" stroke="#dba6bf" stroke-width="0.6" fill="none"/>
<path d="M253.18 468.68L252.25 481.04" stroke="#dba6bf" stroke-width="0.6" fill="none"/>
<path d="M244.87 467.87L243.39 480.18" stroke="#dba6bf" stroke-width="0.6" fill="none"/>
<path d="M225.91 400.16L221.80 411.86" stroke="#dba6bf" stroke-width="0.6" fill="none"/>
<path d="M235.74 415.95A136.40 136.40 0 0 1 208.37 406.31" stroke="#dba6bf" stroke-width="0.6" fill="none"/>
<path d="M235.74 415.95L227.19 452.15" stroke="#dba6bf" stroke-width="0.6" fill="none"/>
<path d="M234.81 453.77A173.60 173.60 0 0 1 219.65 450.19" stroke="#dba6bf" stroke-width="0.6" fill="none"/>
<path d="M234.81 453.77L232.50 465.95" stroke="#dba6bf" stroke-width="0.6" fill="none"/>
<path d="M236.61 466.68A186.00 186.00 0 0 1 228.41 465.13" stroke="#dba6bf" stroke-width="0.6" fill="none"/>
<path d="M236.61 466.68L234.58 478.92" stroke="#dba6bf" stroke-width="0.6" fill="none"/>
<path d="M228.41 465.13L225.83 477.26" stroke="#dba6bf" stroke-width="0.6" fill="none"/>
<path d="M219.65 450.19L216.26 462.12" stroke="#dba6bf" stroke-width="0.6" fill="none"/>
<path d="M220.29 463.21A186.00 186.00 0 0 1 212.26 460.93" stroke="#dba6bf" stroke-width="0.6" fill="none"/>
<path d="M220.29 463.21L217.17 475.21" stroke="#dba6bf" stroke-width="0.6" fill="none"/>
<path d="M212.26 460.93L208.60 472.78" stroke="#dba6bf" stroke-width="0.6" fill="none"/>
<path d="M208.37 406.31L203.03 417.50" stroke="#dba6bf" stroke-width="0.6" fill="none"/>
<path d="M213.76 422.11A148.80 148.80 0 0 1 192.69 412.06" stroke="#dba6bf" stroke-width="0.6" fill="none"/>
<path d="M213.76 422.11L200.43 456.84" stroke="#dba6bf" stroke-width="0.6" fill="none"/>
<path d="M204.34 458.29A186.00 186.00 0 0 1 196.55 455.30" stroke="#dba6bf" stroke-width="0.6" fill="none"/>
<path d="M204.34 458.29L200.16 469.96" stroke="#dba6bf" stroke-width="0.6" fill="none"/>
<path d="M196.55 455.30L191.84 466.77" stroke="#dba6bf" stroke-width="0.6" fill="none"/>
<path d="M192.69 412.06L186.49 422.80" stroke="#dba6bf" stroke-width="0.6" fill="none"/>
<path d="M196.06 427.90A161.20 161.20 0 0 1 177.28 417.06" stroke="#dba6bf" stroke-width="0.6" fill="none"/>
<path d="M196.06 427.90L185.13 450.16" stroke="#dba6bf" stroke-width="0.6" fill="none"/>
<path d="M188.90 451.96A186.00 186.00 0 0 1 181.40 448.28" stroke="#dba6bf" stroke-width="0.6" fill="none"/>
<path d="M188.90 451.96L183.68 463.21" stroke="#dba6bf" stroke-width="0.6" fill="none"/>
<path d="M181.40 448.28L175.69 459.29" stroke="#dba6bf" stroke-width="0.6" fill="none"/>
<path d="M177.28 417.06L170.37 427.35" stroke="#dba6bf" stroke-width="0.6" fill="none"/>
<path d="M176.93 431.55A173.60 173.60 0 0 1 164.00 422.87" stroke="#dba6bf" stroke-width="0.6" fill="none"/>
<path d="M176.93 431.55L170.49 442.14" stroke="#dba6bf" stroke-width="0.6" fill="none"/>
<path d="M174.08 444.27A186.00 186.00 0 0 1 166.95 439.94" stroke="#dba6bf" stroke-width="0.6" fill="none"/>
<path d="M174.08 444.27L167.88 455.01" stroke="#dba6bf" stroke-width="0.6" fill="none"/>
<path d="M166.95 439.94L160.27 450.39" stroke="#dba6bf" stroke-width="0.6" fill="none"/>
<path d="M164.00 422.87L156.63 432.84" stroke="#dba6bf" stroke-width="0.6" fill="none"/>
<path d="M160.02 435.29A186.00 186.00 0 0 1 153.30 430.33" stroke="#dba6bf" stroke-width="0.6" fill="none"/>
<path d="M160.02 435.29L152.88 445.42" stroke="#dba6bf" stroke-width="0.6" fill="none"/>
<path d="M153.30 430.33L145.72 440.14" stroke="#dba6bf" stroke-width="0.6" fill="none"/>
<path d="M190.15 323.36L179.16 329.10" stroke="#dba6bf" stroke-width="0.6" fill="none"/>
<path d="M194.60 350.90A99.20 99.20 0 0 1 170.10 303.96" stroke="#dba6bf" stroke-width="0.6" fill="none"/>
<path d="M194.60 350.90L167.41 376.29" stroke="#dba6bf" stroke-width="0.6" fill="none"/>
<path d="M176.58 385.24A136.40 136.40 0 0 1 159.11 366.53" stroke="#dba6bf" stroke-width="0.6" fill="none"/>
<path d="M176.58 385.24L143.67 422.34" stroke="#dba6bf" stroke-width="0.6" fill="none"/>
<path d="M146.82 425.07A186.00 186.00 0 0 1 140.57 419.54" stroke="#dba6bf" stroke-width="0.6" fill="none"/>
<path d="M146.82 425.07L138.80 434.53" stroke="#dba6bf" stroke-width="0.6" fill="none"/>
<path d="M140.57 419.54L132.14 428.62" stroke="#dba6bf" stroke-width="0.6" fill="none"/>
<path d="M159.11 366.53L149.29 374.10" stroke="#dba6bf" stroke-width="0.6" fill="none"/>
<path d="M157.63 383.99A148.80 148.80 0 0 1 141.85 363.53" stroke="#dba6bf" stroke-width="0.6" fill="none"/>
<path d="M157.63 383.99L139.39 400.79" stroke="#dba6bf" stroke-width="0.6" fill="none"/>
<path d="M143.42 405.02A173.60 173.60 0 0 1 135.50 396.42" stroke="#dba6bf" stroke-width="0.6" fill="none"/>
<path d="M143.42 405.02L125.75 422.42" stroke="#dba6bf" stroke-width="0.6" fill="none"/>
<path d="M135.50 396.42L126.11 404.51" stroke="#dba6bf" stroke-width="0.6" fill="none"/>
<path d="M128.86 407.64A186.00 186.00 0 0 1 123.42 401.32" stroke="#dba6bf" stroke-width="0.6" fill="none"/>
<path d="M128.86 407.64L119.65 415.94" stroke="#dba6bf" stroke-width="0.6" fill="none"/>
<path d="M123.42 401.32L113.84 409.19" stroke="#dba6bf" stroke-width="0.6" fill="none"/>
<path d="M141.85 363.53L131.41 370.22" stroke="#dba6bf" stroke-width="0.6" fill="none"/>
<path d="M135.97 376.96A161.20 161.20 0 0 1 127.19 363.26" stroke="#dba6bf" stroke-width="0.6" fill="none"/>
<path d="M135.97 376.96L115.80 391.38" stroke="#dba6bf" stroke-width="0.6" fill="none"/>
<path d="M118.26 394.75A186.00 186.00 0 0 1 113.41 387.96" stroke="#dba6bf" stroke-width="0.6" fill="none"/>
<path d="M118.26 394.75L108.34 402.19" stroke="#dba6bf" stroke-width="0.6" fill="none"/>
<path d="M113.41 387.96L103.16 394.95" stroke="#dba6bf" stroke-width="0.6" fill="none"/>
<path d="M127.19 363.26L116.43 369.42" stroke="#dba6bf" stroke-width="0.6" fill="none"/>
<path d="M119.41 374.44A173.60 173.60 0 0 1 113.61 364.30" stroke="#dba6bf" stroke-width="0.6" fill="none"/>
<path d="M119.41 374.44L98.31 387.48" stroke="#dba6bf" stroke-width="0.6" fill="none"/>
<path d="M113.61 364.30L102.65 370.10" stroke="#dba6bf" stroke-width="0.6" fill="none"/>
<path d="M104.64 373.76A186.00 186.00 0 0 1 100.74 366.38" stroke="#dba6bf" stroke-width="0.6" fill="none"/>
<path d="M104.64 373.76L93.81 379.80" stroke="#dba6bf" stroke-width="0.6" fill="none"/>
<path d="M100.74 366.38L89.65 371.93" stroke="#dba6bf" stroke-width="0.6" fill="none"/>
<path d="M170.10 303.96L157.97 306.56" stroke="#dba6bf" stroke-width="0.6" fill="none"/>
<path d="M163.67 325.12A111.60 111.60 0 0 1 155.57 287.28" stroke="#dba6bf" stroke-width="0.6" fill="none"/>
<path d="M163.67 325.12L106.22 348.42" stroke="#dba6bf" stroke-width="0.6" fill="none"/>
<path d="M108.50 353.79A173.60 173.60 0 0 1 104.11 342.96" stroke="#dba6bf" stroke-width="0.6" fill="none"/>
<path d="M108.50 353.79L85.84 363.88" stroke="#dba6bf" stroke-width="0.6" fill="none"/>
<path d="M104.11 342.96L92.47 347.23" stroke="#dba6bf" stroke-width="0.6" fill="none"/>
<path d="M93.95 351.14A186.00 186.00 0 0 1 91.08 343.30" stroke="#dba6bf" stroke-width="0.6" fill="none"/>
<path d="M93.95 351.14L82.41 355.67" stroke="#dba6bf" stroke-width="0.6" fill="none"/>
<path d="M91.08 343.30L79.34 347.31" stroke="#dba6bf" stroke-width="0.6" fill="none"/>
<path d="M155.57 287.28L143.18 287.74" stroke="#dba6bf" stroke-width="0.6" fill="none"/>
<path d="M145.44 307.15A124.00 124.00 0 0 1 144.01 268.21" stroke="#dba6bf" stroke-width="0.6" fill="none"/>
<path d="M145.44 307.15L108.94 314.34" stroke="#dba6bf" stroke-width="0.6" fill="none"/>
<path d="M111.39 324.91A161.20 161.20 0 0 1 107.20 303.63" stroke="#dba6bf" stroke-width="0.6" fill="none"/>
<path d="M111.39 324.91L87.43 331.32" stroke="#dba6bf" stroke-width="0.6" fill="none"/>
<path d="M88.56 335.34A186.00 186.00 0 0 1 86.40 327.28" stroke="#dba6bf" stroke-width="0.6" fill="none"/>
<path d="M88.56 335.34L76.66 338.82" stroke="#dba6bf" stroke-width="0.6" fill="none"/>
<path d="M86.40 327.28L74.35 330.22" stroke="#dba6bf" stroke-width="0.6" fill="none"/>
<path d="M107.20 303.63L94.90 305.20" stroke="#dba6bf" stroke-width="0.6" fill="none"/>
<path d="M96.06 312.90A173.60 173.60 0 0 1 94.09 297.45" stroke="#dba6bf" stroke-width="0.6" fill="none"/>
<path d="M96.06 312.90L83.84 315.02" stroke="#dba6bf" stroke-width="0.6" fill="none"/>
<path d="M84.60 319.13A186.00 186.00 0 0 1 83.17 310.90" stroke="#dba6bf" stroke-width="0.6" fill="none"/>
<path d="M84.60 319.13L72.44 321.52" stroke="#dba6bf" stroke-width="0.6" fill="none"/>
<path d="M83.17 310.90L70.91 312.75" stroke="#dba6bf" stroke-width="0.6" fill="none"/>
<path d="M94.09 297.45L81.73 298.47" stroke="#dba6bf" stroke-width="0.6" fill="none"/>
<path d="M82.12 302.62A186.00 186.00 0 0 1 81.43 294.31" stroke="#dba6bf" stroke-width="0.6" fill="none"/>
<path d="M82.12 302.62L69.78 303.92" stroke="#dba6bf" stroke-width="0.6" fill="none"/>
<path d="M81.43 294.31L69.05 295.05" stroke="#dba6bf" stroke-width="0.6" fill="none"/>
<path d="M144.01 268.21L131.70 266.71" stroke="#dba6bf" stroke-width="0.6" fill="none"/>
<path d="M130.70 282.17A136.40 136.40 0 0 1 134.44 251.47" stroke="#dba6bf" stroke-width="0.6" fill="none"/>
<path d="M130.70 282.17L81.11 281.79" stroke="#dba6bf" stroke-width="0.6" fill="none"/>
<path d="M81.12 285.96A186.00 186.00 0 0 1 81.18 277.62" stroke="#dba6bf" stroke-width="0.6" fill="none"/>
<path d="M81.12 285.96L68.72 286.15" stroke="#dba6bf" stroke-width="0.6" fill="none"/>
<path d="M81.18 277.62L68.79 277.24" stroke="#dba6bf" stroke-width="0.6" fill="none"/>
<path d="M134.44 251.47L122.38 248.58" stroke="#dba6bf" stroke-width="0.6" fill="none"/>
<path d="M119.27 266.25A148.80 148.80 0 0 1 127.60 231.42" stroke="#dba6bf" stroke-width="0.6" fill="none"/>
<path d="M119.27 266.25L106.95 264.84" stroke="#dba6bf" stroke-width="0.6" fill="none"/>
<path d="M106.35 271.14A161.20 161.20 0 0 1 107.79 258.56" stroke="#dba6bf" stroke-width="0.6" fill="none"/>
<path d="M106.35 271.14L69.26 268.35" stroke="#dba6bf" stroke-width="0.6" fill="none"/>
<path d="M107.79 258.56L95.54 256.67" stroke="#dba6bf" stroke-width="0.6" fill="none"/>
<path d="M94.74 262.46A173.60 173.60 0 0 1 96.53 250.91" stroke="#dba6bf" stroke-width="0.6" fill="none"/>
<path d="M94.74 262.46L70.12 259.49" stroke="#dba6bf" stroke-width="0.6" fill="none"/>
<path d="M96.53 250.91L84.35 248.60" stroke="#dba6bf" stroke-width="0.6" fill="none"/>
<path d="M83.62 252.71A186.00 186.00 0 0 1 85.17 244.51" stroke="#dba6bf" stroke-width="0.6" fill="none"/>
<path d="M83.62 252.71L71.38 250.68" stroke="#dba6bf" stroke-width="0.6" fill="none"/>
<path d="M85.17 244.51L73.04 241.93" stroke="#dba6bf" stroke-width="0.6" fill="none"/>
<path d="M127.60 231.42L115.97 227.11" stroke="#dba6bf" stroke-width="0.6" fill="none"/>
<path d="M112.54 237.40A161.20 161.20 0 0 1 120.09 217.07" stroke="#dba6bf" stroke-width="0.6" fill="none"/>
<path d="M112.54 237.40L100.65 233.88" stroke="#dba6bf" stroke-width="0.6" fill="none"/>
<path d="M99.09 239.51A173.60 173.60 0 0 1 102.41 228.30" stroke="#dba6bf" stroke-width="0.6" fill="none"/>
<path d="M99.09 239.51L75.09 233.27" stroke="#dba6bf" stroke-width="0.6" fill="none"/>
<path d="M102.41 228.30L90.64 224.38" stroke="#dba6bf" stroke-width="0.6" fill="none"/>
<path d="M89.37 228.36A186.00 186.00 0 0 1 92.01 220.44" stroke="#dba6bf" stroke-width="0.6" fill="none"/>
<path d="M89.37 228.36L77.52 224.70" stroke="#dba6bf" stroke-width="0.6" fill="none"/>
<path d="M92.01 220.44L80.34 216.26" stroke="#dba6bf" stroke-width="0.6" fill="none"/>
<path d="M120.09 217.07L108.78 211.98" stroke="#dba6bf" stroke-width="0.6" fill="none"/>
<path d="M106.47 217.35A173.60 173.60 0 0 1 111.27 206.69" stroke="#dba6bf" stroke-width="0.6" fill="none"/>
<path d="M106.47 217.35L83.53 207.94" stroke="#dba6bf" stroke-width="0.6" fill="none"/>
<path d="M111.27 206.69L100.14 201.23" stroke="#dba6bf" stroke-width="0.6" fill="none"/>
<path d="M98.34 205.00A186.00 186.00 0 0 1 102.02 197.50" stroke="#dba6bf" stroke-width="0.6" fill="none"/>
<path d="M98.34 205.00L87.09 199.78" stroke="#dba6bf" stroke-width="0.6" fill="none"/>
<path d="M102.02 197.50L91.01 191.79" stroke="#dba6bf" stroke-width="0.6" fill="none"/>
<path d="M528.16 287.97A260.5 260.5 0 0 1 368.89 523.54L364.04 512.02A248.0 248.0 0 0 0 515.66 287.76Z" fill="#9dc3e6"/>
<path d="M364.27 525.44A260.5 260.5 0 0 1 38.06 160.52L49.08 166.42A248.0 248.0 0 0 0 359.63 513.83Z" fill="#d6a0c0"/>
<path d="M40.46 156.13A260.5 260.5 0 0 1 87.30 95.58L95.95 104.59A248.0 248.0 0 0 0 51.36 162.25Z" fill="#f5c591"/>
<path d="M90.94 92.15A260.5 260.5 0 0 1 420.39 72.44L413.07 82.57A248.0 248.0 0 0 0 99.42 101.33Z" fill="#b3a5d9"/>
<path d="M424.42 75.41A260.5 260.5 0 0 1 507.03 180.63L495.55 185.57A248.0 248.0 0 0 0 416.90 85.40Z" fill="#e89393"/>
<path d="M508.96 185.25A260.5 260.5 0 0 1 528.20 282.97L515.70 283.00A248.0 248.0 0 0 0 497.38 189.96Z" fill="#a9d18e"/>
<text x="47.40" y="118.60" transform="rotate(-53.00 47.40 118.60)" dy="3.4" text-anchor="middle" class="gl">GroupA</text>
<text x="249.40" y="11.30" transform="rotate(0.00 249.40 11.30)" dy="3.4" text-anchor="middle" class="gl">GroupB</text>
<text x="483.50" y="116.60" transform="rotate(52.00 483.50 116.60)" dy="3.4" text-anchor="middle" class="gl">GroupC</text>
<text x="538.20" y="232.90" transform="rotate(90.00 538.20 232.90)" dy="3.4" text-anchor="middle" class="gl">GroupD</text>
<text x="494.60" y="440.60" transform="rotate(121.80 494.60 440.60)" dy="3.4" text-anchor="middle" class="gl">GroupE</text>
<text x="59.60" y="470.50" transform="rotate(-133.00 59.60 470.50)" dy="3.4" text-anchor="middle" class="gl">GroupF</text>
<rect x="462.66" y="286.65" width="5" height="5" fill="#c0504d" transform="rotate(1.72 465.16 289.15)"/>
<text transform="translate(470.21 289.30) rotate(1.72) scale(0.1)" y="23" text-anchor="start" class="lf">AtPDCB19</text>
<polygon points="464.87,295.73 465.47,297.11 466.93,297.48 465.80,298.48 465.90,299.98 464.60,299.22 463.21,299.78 463.53,298.31 462.57,297.16 464.06,297.01" fill="#ff5555"/>
<text transform="translate(469.73 298.41) rotate(4.29) scale(0.1)" y="23" text-anchor="start" class="lf">ZmPDCB26</text>
<circle cx="463.83" cy="306.88" r="2.5" fill="#1e80f0"/>
<text transform="translate(468.84 307.48) rotate(6.86) scale(0.1)" y="23" text-anchor="start" class="lf">OsPDCB36</text>
<rect x="460.07" y="313.18" width="5" height="5" fill="#c0504d" transform="rotate(9.43 462.57 315.68)"/>
<text transform="translate(467.55 316.51) rotate(9.43) scale(0.1)" y="23" text-anchor="start" class="lf">AtPDCB10</text>
<rect x="458.42" y="321.92" width="5" height="5" fill="#c0504d" transform="rotate(12.01 460.92 324.42)"/>
<text transform="translate(465.86 325.47) rotate(12.01) scale(0.1)" y="23" text-anchor="start" class="lf">AtPDCB17</text>
<rect x="456.37" y="330.57" width="5" height="5" fill="#c0504d" transform="rotate(14.58 458.87 333.07)"/>
<text transform="translate(463.76 334.34) rotate(14.58) scale(0.1)" y="23" text-anchor="start" class="lf">AtPDCB16</text>
<circle cx="456.44" cy="341.62" r="2.5" fill="#1e80f0"/>
<text transform="translate(461.27 343.11) rotate(17.15) scale(0.1)" y="23" text-anchor="start" class="lf">OsPDCB1</text>
<polygon points="454.41,347.90 454.62,349.38 455.93,350.13 454.58,350.79 454.27,352.27 453.22,351.19 451.73,351.36 452.43,350.02 451.81,348.65 453.29,348.91" fill="#ff5555"/>
<text transform="translate(458.38 351.76) rotate(19.72) scale(0.1)" y="23" text-anchor="start" class="lf">ZmPDCB20</text>
<polygon points="451.31,356.23 451.46,357.73 452.74,358.53 451.36,359.14 450.99,360.60 449.99,359.47 448.48,359.57 449.24,358.27 448.69,356.87 450.16,357.20" fill="#ff5555"/>
<text transform="translate(455.11 360.28) rotate(22.29) scale(0.1)" y="23" text-anchor="start" class="lf">ZmPDCB8</text>
<polygon points="447.85,364.42 447.93,365.93 449.17,366.79 447.76,367.33 447.33,368.77 446.38,367.60 444.88,367.63 445.69,366.37 445.20,364.95 446.65,365.33" fill="#ff5555"/>
<text transform="translate(451.47 368.63) rotate(24.86) scale(0.1)" y="23" text-anchor="start" class="lf">ZmPDCB9</text>
<rect x="440.47" y="371.99" width="5" height="5" fill="#c0504d" transform="rotate(27.43 442.97 374.49)"/>
<text transform="translate(447.45 376.82) rotate(27.43) scale(0.1)" y="23" text-anchor="start" class="lf">AtPDCB36</text>
<rect x="436.19" y="379.79" width="5" height="5" fill="#c0504d" transform="rotate(30.01 438.69 382.29)"/>
<text transform="translate(443.07 384.82) rotate(30.01) scale(0.1)" y="23" text-anchor="start" class="lf">AtPDCB35</text>
<rect x="431.57" y="387.39" width="5" height="5" fill="#c0504d" transform="rotate(32.58 434.07 389.89)"/>
<text transform="translate(438.33 392.61) rotate(32.58) scale(0.1)" y="23" text-anchor="start" class="lf">AtPDCB7</text>
<rect x="426.62" y="394.77" width="5" height="5" fill="#c0504d" transform="rotate(35.15 429.12 397.27)"/>
<text transform="translate(433.25 400.18) rotate(35.15) scale(0.1)" y="23" text-anchor="start" class="lf">AtPDCB27</text>
<rect x="421.34" y="401.93" width="5" height="5" fill="#c0504d" transform="rotate(37.72 423.84 404.43)"/>
<text transform="translate(427.83 407.52) rotate(37.72) scale(0.1)" y="23" text-anchor="start" class="lf">AtPDCB8</text>
<rect x="415.74" y="408.84" width="5" height="5" fill="#c0504d" transform="rotate(40.29 418.24 411.34)"/>
<text transform="translate(422.09 414.60) rotate(40.29) scale(0.1)" y="23" text-anchor="start" class="lf">AtPDCB6</text>
<rect x="409.84" y="415.49" width="5" height="5" fill="#c0504d" transform="rotate(42.86 412.34 417.99)"/>
<text transform="translate(416.04 421.43) rotate(42.86) scale(0.1)" y="23" text-anchor="start" class="lf">AtPDCB34</text>
<rect x="403.65" y="421.87" width="5" height="5" fill="#c0504d" transform="rotate(45.43 406.15 424.37)"/>
<text transform="translate(409.69 427.97) rotate(45.43) scale(0.1)" y="23" text-anchor="start" class="lf">AtPDCB33</text>
<rect x="397.17" y="427.97" width="5" height="5" fill="#c0504d" transform="rotate(48.01 399.67 430.47)"/>
<text transform="translate(403.05 434.22) rotate(48.01) scale(0.1)" y="23" text-anchor="start" class="lf">AtPDCB31</text>
<rect x="390.43" y="433.77" width="5" height="5" fill="#c0504d" transform="rotate(50.58 392.93 436.27)"/>
<text transform="translate(396.14 440.17) rotate(50.58) scale(0.1)" y="23" text-anchor="start" class="lf">AtPDCB30</text>
<rect x="383.44" y="439.26" width="5" height="5" fill="#c0504d" transform="rotate(53.15 385.94 441.76)"/>
<text transform="translate(388.97 445.80) rotate(53.15) scale(0.1)" y="23" text-anchor="start" class="lf">AtPDCB20</text>
<rect x="376.21" y="444.43" width="5" height="5" fill="#c0504d" transform="rotate(55.72 378.71 446.93)"/>
<text transform="translate(381.55 451.10) rotate(55.72) scale(0.1)" y="23" text-anchor="start" class="lf">AtPDCB21</text>
<rect x="368.75" y="449.27" width="5" height="5" fill="#c0504d" transform="rotate(58.29 371.25 451.77)"/>
<text transform="translate(373.90 456.07) rotate(58.29) scale(0.1)" y="23" text-anchor="start" class="lf">AtPDCB24</text>
<rect x="361.08" y="453.78" width="5" height="5" fill="#c0504d" transform="rotate(60.86 363.58 456.28)"/>
<text transform="translate(366.04 460.69) rotate(60.86) scale(0.1)" y="23" text-anchor="start" class="lf">AtPDCB23</text>
<rect x="353.22" y="457.93" width="5" height="5" fill="#c0504d" transform="rotate(63.43 355.72 460.43)"/>
<text transform="translate(357.98 464.95) rotate(63.43) scale(0.1)" y="23" text-anchor="start" class="lf">AtPDCB25</text>
<rect x="345.18" y="461.73" width="5" height="5" fill="#c0504d" transform="rotate(66.01 347.68 464.23)"/>
<text transform="translate(349.73 468.84) rotate(66.01) scale(0.1)" y="23" text-anchor="start" class="lf">AtPDCB22</text>
<polygon points="341.62,466.82 340.64,467.96 340.93,469.44 339.55,468.86 338.24,469.60 338.36,468.10 337.25,467.08 338.71,466.73 339.34,465.36 340.12,466.65" fill="#ff5555"/>
<text transform="translate(341.32 472.36) rotate(68.58) scale(0.1)" y="23" text-anchor="start" class="lf">ZmPDCB31</text>
<circle cx="331.13" cy="470.72" r="2.5" fill="#1e80f0"/>
<text transform="translate(332.76 475.50) rotate(71.15) scale(0.1)" y="23" text-anchor="start" class="lf">OsPDCB14</text>
<polygon points="324.86,472.76 323.78,473.81 323.94,475.31 322.61,474.60 321.24,475.22 321.50,473.74 320.48,472.63 321.97,472.41 322.72,471.11 323.38,472.46" fill="#ff5555"/>
<text transform="translate(324.06 478.25) rotate(73.72) scale(0.1)" y="23" text-anchor="start" class="lf">ZmPDCB53</text>
<circle cx="314.06" cy="475.71" r="2.5" fill="#1e80f0"/>
<text transform="translate(315.26 480.61) rotate(76.29) scale(0.1)" y="23" text-anchor="start" class="lf">OsPDCB9</text>
<circle cx="305.37" cy="477.62" r="2.5" fill="#1e80f0"/>
<text transform="translate(306.35 482.57) rotate(78.86) scale(0.1)" y="23" text-anchor="start" class="lf">OsPDCB39</text>
<polygon points="298.89,478.80 297.68,479.69 297.64,481.20 296.42,480.32 294.97,480.75 295.43,479.32 294.57,478.08 296.08,478.07 296.99,476.87 297.47,478.30" fill="#ff5555"/>
<text transform="translate(297.37 484.13) rotate(81.43) scale(0.1)" y="23" text-anchor="start" class="lf">ZmPDCB38</text>
<circle cx="287.79" cy="480.27" r="2.5" fill="#1e80f0"/>
<text transform="translate(288.32 485.29) rotate(84.01) scale(0.1)" y="23" text-anchor="start" class="lf">OsPDCB41</text>
<circle cx="278.93" cy="481.00" r="2.5" fill="#1e80f0"/>
<text transform="translate(279.23 486.04) rotate(86.58) scale(0.1)" y="23" text-anchor="start" class="lf">OsPDCB11</text>
<polygon points="272.34,481.29 271.03,482.02 270.79,483.50 269.69,482.47 268.20,482.71 268.84,481.35 268.16,480.00 269.66,480.19 270.72,479.13 271.00,480.61" fill="#ff5555"/>
<text transform="translate(270.12 486.38) rotate(89.15) scale(0.1)" y="23" text-anchor="start" class="lf">ZmPDCB25</text>
<circle cx="261.15" cy="481.26" r="2.5" fill="#1e80f0"/>
<text transform="translate(261.00 486.31) rotate(271.72) scale(0.1)" y="23" text-anchor="end" class="lf">OsPDCB37</text>
<polygon points="254.57,480.97 253.19,481.57 252.82,483.03 251.82,481.90 250.32,482.00 251.08,480.70 250.52,479.31 251.99,479.63 253.14,478.67 253.29,480.16" fill="#ff5555"/>
<text transform="translate(251.89 485.83) rotate(274.29) scale(0.1)" y="23" text-anchor="end" class="lf">ZmPDCB33</text>
<circle cx="243.42" cy="479.93" r="2.5" fill="#1e80f0"/>
<text transform="translate(242.82 484.94) rotate(276.86) scale(0.1)" y="23" text-anchor="end" class="lf">OsPDCB5</text>
<polygon points="236.89,479.05 235.46,479.52 234.96,480.94 234.07,479.73 232.56,479.70 233.44,478.47 233.01,477.03 234.44,477.48 235.68,476.63 235.69,478.13" fill="#ff5555"/>
<text transform="translate(233.79 483.65) rotate(279.43) scale(0.1)" y="23" text-anchor="end" class="lf">ZmPDCB50</text>
<circle cx="225.88" cy="477.02" r="2.5" fill="#1e80f0"/>
<text transform="translate(224.83 481.96) rotate(282.01) scale(0.1)" y="23" text-anchor="end" class="lf">OsPDCB24</text>
<polygon points="219.45,475.55 217.99,475.90 217.37,477.27 216.58,475.98 215.09,475.81 216.07,474.67 215.77,473.19 217.16,473.77 218.47,473.03 218.35,474.53" fill="#ff5555"/>
<text transform="translate(215.96 479.86) rotate(284.58) scale(0.1)" y="23" text-anchor="end" class="lf">ZmPDCB37</text>
<circle cx="208.68" cy="472.54" r="2.5" fill="#1e80f0"/>
<text transform="translate(207.19 477.37) rotate(287.15) scale(0.1)" y="23" text-anchor="end" class="lf">OsPDCB20</text>
<polygon points="202.40,470.51 200.92,470.72 200.17,472.03 199.51,470.68 198.03,470.37 199.11,469.32 198.94,467.83 200.28,468.53 201.65,467.91 201.39,469.39" fill="#ff5555"/>
<text transform="translate(198.54 474.48) rotate(289.72) scale(0.1)" y="23" text-anchor="end" class="lf">ZmPDCB18</text>
<circle cx="191.94" cy="466.54" r="2.5" fill="#1e80f0"/>
<text transform="translate(190.02 471.21) rotate(292.29) scale(0.1)" y="23" text-anchor="end" class="lf">OsPDCB46</text>
<polygon points="185.88,463.95 184.37,464.03 183.51,465.27 182.97,463.86 181.53,463.43 182.70,462.48 182.67,460.98 183.93,461.79 185.35,461.30 184.97,462.75" fill="#ff5555"/>
<text transform="translate(181.67 467.57) rotate(294.86) scale(0.1)" y="23" text-anchor="end" class="lf">ZmPDCB29</text>
<circle cx="175.81" cy="459.07" r="2.5" fill="#1e80f0"/>
<text transform="translate(173.48 463.55) rotate(297.43) scale(0.1)" y="23" text-anchor="end" class="lf">OsPDCB16</text>
<polygon points="170.00,455.94 168.50,455.89 167.53,457.04 167.12,455.60 165.72,455.03 166.97,454.19 167.07,452.69 168.26,453.62 169.72,453.25 169.20,454.67" fill="#ff5555"/>
<text transform="translate(165.48 459.17) rotate(300.01) scale(0.1)" y="23" text-anchor="end" class="lf">ZmPDCB19</text>
<circle cx="160.41" cy="450.17" r="2.5" fill="#1e80f0"/>
<text transform="translate(157.69 454.43) rotate(302.58) scale(0.1)" y="23" text-anchor="end" class="lf">OsPDCB26</text>
<polygon points="154.91,446.54 153.41,446.36 152.35,447.42 152.07,445.94 150.73,445.25 152.04,444.53 152.28,443.04 153.38,444.07 154.87,443.84 154.23,445.20" fill="#ff5555"/>
<text transform="translate(150.12 449.35) rotate(305.15) scale(0.1)" y="23" text-anchor="end" class="lf">ZmPDCB32</text>
<circle cx="145.87" cy="439.94" r="2.5" fill="#1e80f0"/>
<text transform="translate(142.78 443.93) rotate(307.72) scale(0.1)" y="23" text-anchor="end" class="lf">OsPDCB13</text>
<polygon points="140.72,435.83 139.25,435.51 138.09,436.47 137.94,434.97 136.67,434.17 138.05,433.57 138.42,432.11 139.42,433.23 140.92,433.13 140.16,434.43" fill="#ff5555"/>
<text transform="translate(135.70 438.19) rotate(310.29) scale(0.1)" y="23" text-anchor="end" class="lf">ZmPDCB23</text>
<circle cx="132.31" cy="428.44" r="2.5" fill="#1e80f0"/>
<text transform="translate(128.87 432.14) rotate(312.86) scale(0.1)" y="23" text-anchor="end" class="lf">OsPDCB3</text>
<circle cx="125.93" cy="422.25" r="2.5" fill="#1e80f0"/>
<text transform="translate(122.33 425.79) rotate(315.43) scale(0.1)" y="23" text-anchor="end" class="lf">OsPDCB33</text>
<polygon points="121.37,417.48 119.96,416.97 118.68,417.77 118.74,416.26 117.58,415.30 119.03,414.88 119.59,413.49 120.43,414.73 121.93,414.84 121.01,416.02" fill="#ff5555"/>
<text transform="translate(116.08 419.15) rotate(318.01) scale(0.1)" y="23" text-anchor="end" class="lf">ZmPDCB44</text>
<polygon points="115.49,410.81 114.10,410.23 112.79,410.97 112.92,409.47 111.81,408.45 113.27,408.11 113.90,406.74 114.68,408.02 116.17,408.19 115.19,409.33" fill="#ff5555"/>
<text transform="translate(110.13 412.24) rotate(320.58) scale(0.1)" y="23" text-anchor="end" class="lf">ZmPDCB15</text>
<polygon points="109.92,403.88 108.56,403.24 107.22,403.92 107.41,402.43 106.34,401.36 107.82,401.08 108.51,399.74 109.23,401.06 110.72,401.30 109.69,402.39" fill="#ff5555"/>
<text transform="translate(104.50 405.07) rotate(323.15) scale(0.1)" y="23" text-anchor="end" class="lf">ZmPDCB40</text>
<circle cx="103.37" cy="394.81" r="2.5" fill="#1e80f0"/>
<text transform="translate(99.20 397.65) rotate(325.72) scale(0.1)" y="23" text-anchor="end" class="lf">OsPDCB27</text>
<polygon points="99.74,389.30 98.44,388.54 97.04,389.10 97.36,387.63 96.40,386.47 97.90,386.33 98.70,385.05 99.30,386.43 100.76,386.80 99.64,387.80" fill="#ff5555"/>
<text transform="translate(94.23 390.00) rotate(328.29) scale(0.1)" y="23" text-anchor="end" class="lf">ZmPDCB54</text>
<polygon points="95.14,381.69 93.88,380.87 92.46,381.37 92.85,379.91 91.94,378.71 93.44,378.63 94.30,377.40 94.84,378.80 96.28,379.24 95.11,380.18" fill="#ff5555"/>
<text transform="translate(89.61 382.14) rotate(330.86) scale(0.1)" y="23" text-anchor="end" class="lf">ZmPDCB1</text>
<circle cx="89.87" cy="371.82" r="2.5" fill="#1e80f0"/>
<text transform="translate(85.35 374.08) rotate(333.43) scale(0.1)" y="23" text-anchor="end" class="lf">OsPDCB8</text>
<polygon points="87.01,365.88 85.82,364.95 84.36,365.32 84.88,363.90 84.08,362.63 85.58,362.68 86.55,361.53 86.96,362.97 88.36,363.54 87.11,364.38" fill="#ff5555"/>
<text transform="translate(81.46 365.83) rotate(336.01) scale(0.1)" y="23" text-anchor="end" class="lf">ZmPDCB7</text>
<polygon points="83.48,357.72 82.34,356.74 80.86,357.03 81.44,355.65 80.70,354.34 82.20,354.46 83.22,353.35 83.57,354.81 84.94,355.44 83.65,356.22" fill="#ff5555"/>
<text transform="translate(77.94 357.42) rotate(338.58) scale(0.1)" y="23" text-anchor="end" class="lf">ZmPDCB11</text>
<circle cx="79.58" cy="347.23" r="2.5" fill="#1e80f0"/>
<text transform="translate(74.80 348.86) rotate(341.15) scale(0.1)" y="23" text-anchor="end" class="lf">OsPDCB47</text>
<polygon points="77.54,340.96 76.49,339.88 74.99,340.04 75.70,338.71 75.08,337.34 76.56,337.60 77.67,336.58 77.89,338.07 79.19,338.82 77.84,339.48" fill="#ff5555"/>
<text transform="translate(72.05 340.16) rotate(343.72) scale(0.1)" y="23" text-anchor="end" class="lf">ZmPDCB10</text>
<circle cx="74.59" cy="330.16" r="2.5" fill="#1e80f0"/>
<text transform="translate(69.69 331.36) rotate(346.29) scale(0.1)" y="23" text-anchor="end" class="lf">OsPDCB18</text>
<polygon points="73.13,323.73 72.18,322.56 70.67,322.59 71.49,321.33 71.00,319.91 72.45,320.30 73.65,319.39 73.73,320.89 74.97,321.75 73.56,322.29" fill="#ff5555"/>
<text transform="translate(67.73 322.45) rotate(348.86) scale(0.1)" y="23" text-anchor="end" class="lf">ZmPDCB39</text>
<circle cx="71.16" cy="312.71" r="2.5" fill="#1e80f0"/>
<text transform="translate(66.17 313.47) rotate(351.43) scale(0.1)" y="23" text-anchor="end" class="lf">OsPDCB42</text>
<polygon points="70.27,306.18 69.43,304.93 67.93,304.83 68.86,303.64 68.49,302.18 69.91,302.70 71.18,301.90 71.13,303.40 72.28,304.37 70.84,304.78" fill="#ff5555"/>
<text transform="translate(65.01 304.42) rotate(354.01) scale(0.1)" y="23" text-anchor="end" class="lf">ZmPDCB4</text>
<circle cx="69.30" cy="295.03" r="2.5" fill="#1e80f0"/>
<text transform="translate(64.26 295.33) rotate(356.58) scale(0.1)" y="23" text-anchor="end" class="lf">OsPDCB40</text>
<polygon points="69.01,288.44 68.28,287.13 66.80,286.89 67.83,285.79 67.59,284.30 68.95,284.94 70.30,284.26 70.11,285.76 71.17,286.82 69.69,287.10" fill="#ff5555"/>
<text transform="translate(63.92 286.22) rotate(359.15) scale(0.1)" y="23" text-anchor="end" class="lf">ZmPDCB35</text>
<circle cx="69.04" cy="277.25" r="2.5" fill="#1e80f0"/>
<text transform="translate(63.99 277.10) rotate(361.72) scale(0.1)" y="23" text-anchor="end" class="lf">OsPDCB7</text>
<polygon points="69.33,270.67 68.73,269.29 67.27,268.92 68.40,267.92 68.30,266.42 69.60,267.18 70.99,266.62 70.67,268.09 71.63,269.24 70.14,269.39" fill="#ff5555"/>
<text transform="translate(64.47 267.99) rotate(364.29) scale(0.1)" y="23" text-anchor="end" class="lf">ZmPDCB41</text>
<polygon points="70.09,261.81 69.55,260.40 68.11,259.97 69.28,259.02 69.25,257.51 70.51,258.33 71.93,257.84 71.55,259.29 72.46,260.49 70.95,260.57" fill="#ff5555"/>
<text transform="translate(65.36 258.92) rotate(366.86) scale(0.1)" y="23" text-anchor="end" class="lf">ZmPDCB43</text>
<polygon points="71.25,252.99 70.78,251.56 69.36,251.06 70.57,250.17 70.60,248.66 71.83,249.54 73.27,249.11 72.82,250.54 73.67,251.78 72.17,251.79" fill="#ff5555"/>
<text transform="translate(66.65 249.89) rotate(369.43) scale(0.1)" y="23" text-anchor="end" class="lf">ZmPDCB14</text>
<polygon points="72.81,244.23 72.39,242.79 71.00,242.22 72.24,241.38 72.35,239.88 73.53,240.81 74.99,240.44 74.48,241.86 75.28,243.13 73.77,243.08" fill="#ff5555"/>
<text transform="translate(68.34 240.93) rotate(372.01) scale(0.1)" y="23" text-anchor="end" class="lf">ZmPDCB42</text>
<circle cx="75.33" cy="233.33" r="2.5" fill="#1e80f0"/>
<text transform="translate(70.44 232.06) rotate(374.58) scale(0.1)" y="23" text-anchor="end" class="lf">OsPDCB29</text>
<circle cx="77.76" cy="224.78" r="2.5" fill="#1e80f0"/>
<text transform="translate(72.93 223.29) rotate(377.15) scale(0.1)" y="23" text-anchor="end" class="lf">OsPDCB38</text>
<circle cx="80.57" cy="216.34" r="2.5" fill="#1e80f0"/>
<text transform="translate(75.82 214.64) rotate(379.72) scale(0.1)" y="23" text-anchor="end" class="lf">OsPDCB30</text>
<circle cx="83.76" cy="208.04" r="2.5" fill="#1e80f0"/>
<text transform="translate(79.09 206.12) rotate(382.29) scale(0.1)" y="23" text-anchor="end" class="lf">OsPDCB32</text>
<circle cx="87.32" cy="199.89" r="2.5" fill="#1e80f0"/>
<text transform="translate(82.73 197.77) rotate(384.86) scale(0.1)" y="23" text-anchor="end" class="lf">OsPDCB31</text>
<circle cx="91.23" cy="191.91" r="2.5" fill="#1e80f0"/>
<text transform="translate(86.75 189.58) rotate(387.43) scale(0.1)" y="23" text-anchor="end" class="lf">OsPDCB28</text>
<circle cx="95.51" cy="184.11" r="2.5" fill="#1e80f0"/>
<text transform="translate(91.13 181.58) rotate(390.01) scale(0.1)" y="23" text-anchor="end" class="lf">OsPDCB17</text>
<polygon points="98.89,178.45 99.01,176.95 97.90,175.93 99.36,175.58 99.99,174.21 100.77,175.50 102.27,175.67 101.29,176.81 101.59,178.29 100.20,177.71" fill="#ff5555"/>
<text transform="translate(95.87 173.79) rotate(392.58) scale(0.1)" y="23" text-anchor="end" class="lf">ZmPDCB28</text>
<polygon points="103.76,171.01 103.94,169.51 102.88,168.45 104.36,168.17 105.05,166.83 105.77,168.14 107.26,168.38 106.23,169.48 106.46,170.97 105.10,170.33" fill="#ff5555"/>
<text transform="translate(100.95 166.22) rotate(395.15) scale(0.1)" y="23" text-anchor="end" class="lf">ZmPDCB6</text>
<rect x="107.86" y="159.47" width="5" height="5" fill="#c0504d" transform="rotate(217.72 110.36 161.97)"/>
<text transform="translate(106.37 158.88) rotate(397.72) scale(0.1)" y="23" text-anchor="end" class="lf">AtPDCB26</text>
<circle cx="115.96" cy="155.06" r="2.5" fill="#1e80f0"/>
<text transform="translate(112.11 151.80) rotate(400.29) scale(0.1)" y="23" text-anchor="end" class="lf">OsPDCB6</text>
<polygon points="120.29,150.10 120.68,148.64 119.77,147.44 121.27,147.36 122.13,146.13 122.68,147.53 124.12,147.97 122.95,148.91 122.98,150.42 121.72,149.60" fill="#ff5555"/>
<text transform="translate(118.16 144.97) rotate(402.86) scale(0.1)" y="23" text-anchor="end" class="lf">ZmPDCB27</text>
<polygon points="126.41,143.64 126.87,142.21 126.01,140.97 127.52,140.96 128.43,139.76 128.91,141.19 130.33,141.69 129.12,142.58 129.08,144.09 127.86,143.21" fill="#ff5555"/>
<text transform="translate(124.51 138.43) rotate(405.43) scale(0.1)" y="23" text-anchor="end" class="lf">ZmPDCB34</text>
<rect x="132.03" y="133.43" width="5" height="5" fill="#c0504d" transform="rotate(228.01 134.53 135.93)"/>
<text transform="translate(131.15 132.18) rotate(408.01) scale(0.1)" y="23" text-anchor="end" class="lf">AtPDCB9</text>
<rect x="138.77" y="127.63" width="5" height="5" fill="#c0504d" transform="rotate(230.58 141.27 130.13)"/>
<text transform="translate(138.06 126.23) rotate(410.58) scale(0.1)" y="23" text-anchor="end" class="lf">AtPDCB4</text>
<rect x="145.76" y="122.14" width="5" height="5" fill="#c0504d" transform="rotate(233.15 148.26 124.64)"/>
<text transform="translate(145.23 120.60) rotate(413.15) scale(0.1)" y="23" text-anchor="end" class="lf">AtPDCB12</text>
<rect x="152.99" y="116.97" width="5" height="5" fill="#c0504d" transform="rotate(235.72 155.49 119.47)"/>
<text transform="translate(152.65 115.30) rotate(415.72) scale(0.1)" y="23" text-anchor="end" class="lf">AtPDCB2</text>
<circle cx="162.95" cy="114.63" r="2.5" fill="#1e80f0"/>
<text transform="translate(160.30 110.33) rotate(418.29) scale(0.1)" y="23" text-anchor="end" class="lf">OsPDCB15</text>
<polygon points="168.61,111.24 169.43,109.98 168.93,108.56 170.39,108.95 171.59,108.04 171.67,109.54 172.90,110.40 171.50,110.94 171.06,112.38 170.12,111.21" fill="#ff5555"/>
<text transform="translate(168.16 105.71) rotate(420.86) scale(0.1)" y="23" text-anchor="end" class="lf">ZmPDCB30</text>
<polygon points="176.43,107.00 177.30,105.77 176.87,104.33 178.30,104.78 179.54,103.93 179.56,105.43 180.75,106.35 179.32,106.83 178.83,108.24 177.93,107.04" fill="#ff5555"/>
<text transform="translate(176.22 101.45) rotate(423.43) scale(0.1)" y="23" text-anchor="end" class="lf">ZmPDCB5</text>
<rect x="184.02" y="99.67" width="5" height="5" fill="#c0504d" transform="rotate(246.01 186.52 102.17)"/>
<text transform="translate(184.47 97.56) rotate(426.01) scale(0.1)" y="23" text-anchor="end" class="lf">AtPDCB3</text>
<rect x="192.23" y="96.24" width="5" height="5" fill="#c0504d" transform="rotate(248.58 194.73 98.74)"/>
<text transform="translate(192.88 94.04) rotate(428.58) scale(0.1)" y="23" text-anchor="end" class="lf">AtPDCB32</text>
<rect x="200.57" y="93.18" width="5" height="5" fill="#c0504d" transform="rotate(251.15 203.07 95.68)"/>
<text transform="translate(201.44 90.90) rotate(431.15) scale(0.1)" y="23" text-anchor="end" class="lf">AtPDCB28</text>
<circle cx="211.55" cy="93.00" r="2.5" fill="#1e80f0"/>
<text transform="translate(210.14 88.15) rotate(433.72) scale(0.1)" y="23" text-anchor="end" class="lf">OsPDCB44</text>
<rect x="217.64" y="88.19" width="5" height="5" fill="#c0504d" transform="rotate(256.29 220.14 90.69)"/>
<text transform="translate(218.94 85.79) rotate(436.29) scale(0.1)" y="23" text-anchor="end" class="lf">AtPDCB37</text>
<polygon points="226.57,89.23 227.74,88.28 227.71,86.77 228.97,87.59 230.39,87.10 230.00,88.55 230.91,89.75 229.41,89.83 228.55,91.07 228.01,89.66" fill="#ff5555"/>
<text transform="translate(227.85 83.83) rotate(438.86) scale(0.1)" y="23" text-anchor="end" class="lf">ZmPDCB22</text>
<circle cx="237.59" cy="87.26" r="2.5" fill="#1e80f0"/>
<text transform="translate(236.83 82.27) rotate(441.43) scale(0.1)" y="23" text-anchor="end" class="lf">OsPDCB4</text>
<polygon points="244.12,86.37 245.37,85.53 245.47,84.03 246.66,84.96 248.12,84.59 247.60,86.01 248.40,87.28 246.90,87.23 245.93,88.38 245.52,86.94" fill="#ff5555"/>
<text transform="translate(245.88 81.11) rotate(444.01) scale(0.1)" y="23" text-anchor="end" class="lf">ZmPDCB36</text>
<circle cx="255.27" cy="85.40" r="2.5" fill="#1e80f0"/>
<text transform="translate(254.97 80.36) rotate(446.58) scale(0.1)" y="23" text-anchor="end" class="lf">OsPDCB22</text>
<circle cx="264.16" cy="85.07" r="2.5" fill="#1e80f0"/>
<text transform="translate(264.08 80.02) rotate(449.15) scale(0.1)" y="23" text-anchor="end" class="lf">OsPDCB19</text>
<polygon points="270.75,85.07 272.10,84.41 272.40,82.93 273.45,84.01 274.95,83.84 274.25,85.18 274.87,86.55 273.38,86.29 272.27,87.30 272.06,85.82" fill="#ff5555"/>
<text transform="translate(273.20 80.09) rotate(271.72) scale(0.1)" y="23" text-anchor="start" class="lf">ZmPDCB3</text>
<polygon points="279.63,85.43 281.01,84.83 281.38,83.37 282.38,84.50 283.88,84.40 283.12,85.70 283.68,87.09 282.21,86.77 281.06,87.73 280.91,86.24" fill="#ff5555"/>
<text transform="translate(282.31 80.57) rotate(274.29) scale(0.1)" y="23" text-anchor="start" class="lf">ZmPDCB51</text>
<circle cx="290.78" cy="86.47" r="2.5" fill="#1e80f0"/>
<text transform="translate(291.38 81.46) rotate(276.86) scale(0.1)" y="23" text-anchor="start" class="lf">OsPDCB12</text>
<circle cx="299.58" cy="87.73" r="2.5" fill="#1e80f0"/>
<text transform="translate(300.41 82.75) rotate(279.43) scale(0.1)" y="23" text-anchor="start" class="lf">OsPDCB34</text>
<polygon points="306.07,88.91 307.51,88.49 308.08,87.10 308.92,88.34 310.42,88.45 309.49,89.63 309.86,91.09 308.44,90.58 307.17,91.38 307.22,89.87" fill="#ff5555"/>
<text transform="translate(309.37 84.44) rotate(282.01) scale(0.1)" y="23" text-anchor="start" class="lf">ZmPDCB45</text>
<polygon points="314.75,90.85 316.21,90.50 316.83,89.13 317.62,90.42 319.11,90.59 318.13,91.73 318.43,93.21 317.04,92.63 315.73,93.37 315.85,91.87" fill="#ff5555"/>
<text transform="translate(318.24 86.54) rotate(284.58) scale(0.1)" y="23" text-anchor="start" class="lf">ZmPDCB16</text>
<polygon points="323.33,93.18 324.80,92.90 325.49,91.56 326.22,92.88 327.70,93.12 326.67,94.21 326.90,95.70 325.54,95.06 324.20,95.74 324.39,94.25" fill="#ff5555"/>
<text transform="translate(327.01 89.03) rotate(287.15) scale(0.1)" y="23" text-anchor="start" class="lf">ZmPDCB17</text>
<circle cx="333.96" cy="96.67" r="2.5" fill="#1e80f0"/>
<text transform="translate(335.66 91.92) rotate(289.72) scale(0.1)" y="23" text-anchor="start" class="lf">OsPDCB25</text>
<polygon points="340.13,98.99 341.63,98.84 342.43,97.56 343.04,98.94 344.50,99.31 343.37,100.31 343.47,101.82 342.17,101.06 340.77,101.61 341.10,100.14" fill="#ff5555"/>
<text transform="translate(344.18 95.19) rotate(292.29) scale(0.1)" y="23" text-anchor="start" class="lf">ZmPDCB13</text>
<circle cx="350.41" cy="103.42" r="2.5" fill="#1e80f0"/>
<text transform="translate(352.53 98.83) rotate(294.86) scale(0.1)" y="23" text-anchor="start" class="lf">OsPDCB43</text>
<rect x="355.89" y="104.83" width="5" height="5" fill="#c0504d" transform="rotate(297.43 358.39 107.33)"/>
<text transform="translate(360.72 102.85) rotate(297.43) scale(0.1)" y="23" text-anchor="start" class="lf">AtPDCB11</text>
<polygon points="364.20,110.46 365.70,110.51 366.67,109.36 367.08,110.80 368.48,111.37 367.23,112.21 367.13,113.71 365.94,112.78 364.48,113.15 365.00,111.73" fill="#ff5555"/>
<text transform="translate(368.72 107.23) rotate(300.01) scale(0.1)" y="23" text-anchor="start" class="lf">ZmPDCB21</text>
<polygon points="371.85,114.99 373.35,115.11 374.37,114.00 374.72,115.46 376.09,116.09 374.80,116.87 374.63,118.37 373.49,117.39 372.01,117.69 372.59,116.30" fill="#ff5555"/>
<text transform="translate(376.51 111.97) rotate(302.58) scale(0.1)" y="23" text-anchor="start" class="lf">ZmPDCB56</text>
<polygon points="379.29,119.86 380.79,120.04 381.85,118.98 382.13,120.46 383.47,121.15 382.16,121.87 381.92,123.36 380.82,122.33 379.33,122.56 379.97,121.20" fill="#ff5555"/>
<text transform="translate(384.08 117.05) rotate(305.15) scale(0.1)" y="23" text-anchor="start" class="lf">ZmPDCB55</text>
<rect x="385.83" y="123.96" width="5" height="5" fill="#c0504d" transform="rotate(307.72 388.33 126.46)"/>
<text transform="translate(391.42 122.47) rotate(307.72) scale(0.1)" y="23" text-anchor="start" class="lf">AtPDCB1</text>
<polygon points="393.48,130.57 394.95,130.89 396.11,129.93 396.26,131.43 397.53,132.23 396.15,132.83 395.78,134.29 394.78,133.17 393.28,133.27 394.04,131.97" fill="#ff5555"/>
<text transform="translate(398.50 128.21) rotate(310.29) scale(0.1)" y="23" text-anchor="start" class="lf">ZmPDCB12</text>
<circle cx="401.89" cy="137.96" r="2.5" fill="#1e80f0"/>
<text transform="translate(405.33 134.26) rotate(312.86) scale(0.1)" y="23" text-anchor="start" class="lf">OsPDCB45</text>
<rect x="405.77" y="141.65" width="5" height="5" fill="#c0504d" transform="rotate(315.43 408.27 144.15)"/>
<text transform="translate(411.87 140.61) rotate(315.43) scale(0.1)" y="23" text-anchor="start" class="lf">AtPDCB14</text>
<rect x="411.87" y="148.13" width="5" height="5" fill="#c0504d" transform="rotate(318.01 414.37 150.63)"/>
<text transform="translate(418.12 147.25) rotate(318.01) scale(0.1)" y="23" text-anchor="start" class="lf">AtPDCB5</text>
<rect x="417.67" y="154.87" width="5" height="5" fill="#c0504d" transform="rotate(320.58 420.17 157.37)"/>
<text transform="translate(424.07 154.16) rotate(320.58) scale(0.1)" y="23" text-anchor="start" class="lf">AtPDCB29</text>
<rect x="423.16" y="161.86" width="5" height="5" fill="#c0504d" transform="rotate(323.15 425.66 164.36)"/>
<text transform="translate(429.70 161.33) rotate(323.15) scale(0.1)" y="23" text-anchor="start" class="lf">AtPDCB13</text>
<polygon points="429.53,169.69 430.87,170.39 432.24,169.78 431.98,171.26 433.00,172.37 431.51,172.59 430.76,173.89 430.10,172.54 428.62,172.24 429.70,171.19" fill="#ff5555"/>
<text transform="translate(435.00 168.75) rotate(325.72) scale(0.1)" y="23" text-anchor="start" class="lf">ZmPDCB47</text>
<circle cx="435.67" cy="179.05" r="2.5" fill="#1e80f0"/>
<text transform="translate(439.97 176.40) rotate(328.29) scale(0.1)" y="23" text-anchor="start" class="lf">OsPDCB21</text>
<polygon points="439.06,184.71 440.32,185.53 441.74,185.03 441.35,186.49 442.26,187.69 440.76,187.77 439.90,189.00 439.36,187.60 437.92,187.16 439.09,186.22" fill="#ff5555"/>
<text transform="translate(444.59 184.26) rotate(330.86) scale(0.1)" y="23" text-anchor="start" class="lf">ZmPDCB24</text>
<polygon points="443.30,192.53 444.53,193.40 445.97,192.97 445.52,194.40 446.37,195.64 444.87,195.66 443.95,196.85 443.47,195.42 442.06,194.93 443.26,194.03" fill="#ff5555"/>
<text transform="translate(448.85 192.32) rotate(333.43) scale(0.1)" y="23" text-anchor="start" class="lf">ZmPDCB48</text>
<circle cx="448.13" cy="202.62" r="2.5" fill="#1e80f0"/>
<text transform="translate(452.74 200.57) rotate(336.01) scale(0.1)" y="23" text-anchor="start" class="lf">OsPDCB2</text>
<rect x="449.06" y="208.33" width="5" height="5" fill="#c0504d" transform="rotate(338.58 451.56 210.83)"/>
<text transform="translate(456.26 208.98) rotate(338.58) scale(0.1)" y="23" text-anchor="start" class="lf">AtPDCB15</text>
<rect x="452.12" y="216.67" width="5" height="5" fill="#c0504d" transform="rotate(341.15 454.62 219.17)"/>
<text transform="translate(459.40 217.54) rotate(341.15) scale(0.1)" y="23" text-anchor="start" class="lf">AtPDCB18</text>
<polygon points="456.66,225.44 457.71,226.52 459.21,226.36 458.50,227.69 459.12,229.06 457.64,228.80 456.53,229.82 456.31,228.33 455.01,227.58 456.36,226.92" fill="#ff5555"/>
<text transform="translate(462.15 226.24) rotate(343.72) scale(0.1)" y="23" text-anchor="start" class="lf">ZmPDCB49</text>
<circle cx="459.61" cy="236.24" r="2.5" fill="#1e80f0"/>
<text transform="translate(464.51 235.04) rotate(346.29) scale(0.1)" y="23" text-anchor="start" class="lf">OsPDCB23</text>
<polygon points="461.07,242.67 462.02,243.84 463.53,243.81 462.71,245.07 463.20,246.49 461.75,246.10 460.55,247.01 460.47,245.51 459.23,244.65 460.64,244.11" fill="#ff5555"/>
<text transform="translate(466.47 243.95) rotate(348.86) scale(0.1)" y="23" text-anchor="start" class="lf">ZmPDCB46</text>
<circle cx="463.04" cy="253.69" r="2.5" fill="#1e80f0"/>
<text transform="translate(468.03 252.93) rotate(351.43) scale(0.1)" y="23" text-anchor="start" class="lf">OsPDCB35</text>
<circle cx="464.17" cy="262.51" r="2.5" fill="#1e80f0"/>
<text transform="translate(469.19 261.98) rotate(354.01) scale(0.1)" y="23" text-anchor="start" class="lf">OsPDCB10</text>
<polygon points="464.76,269.07 465.54,270.36 467.04,270.53 466.06,271.67 466.36,273.15 464.97,272.57 463.66,273.31 463.78,271.81 462.67,270.79 464.13,270.44" fill="#ff5555"/>
<text transform="translate(469.94 271.07) rotate(356.58) scale(0.1)" y="23" text-anchor="start" class="lf">ZmPDCB2</text>
<polygon points="465.19,277.96 465.92,279.27 467.40,279.51 466.37,280.61 466.61,282.10 465.25,281.46 463.90,282.14 464.09,280.64 463.03,279.58 464.51,279.30" fill="#ff5555"/>
<text transform="translate(470.28 280.18) rotate(359.15) scale(0.1)" y="23" text-anchor="start" class="lf">ZmPDCB52</text>
</svg>
</body></html>
